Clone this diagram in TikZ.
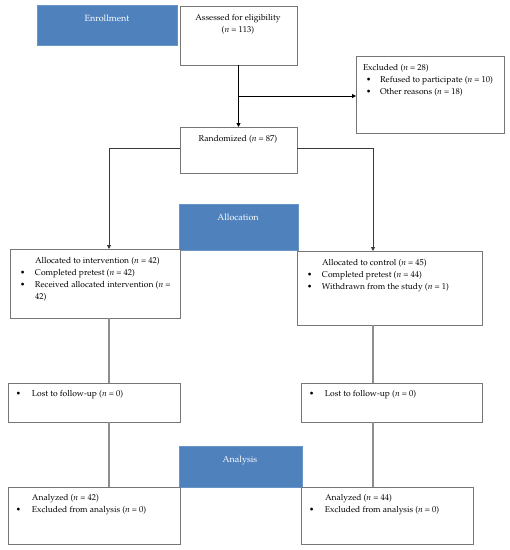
\documentclass[tikz,border=0pt]{standalone}
\usepackage[T1]{fontenc}
\usepackage{mathpazo}
\usetikzlibrary{arrows.meta}
\definecolor{blu}{HTML}{4F81BD}
\definecolor{bord}{HTML}{767676}
\definecolor{conn}{HTML}{8E8E8E}
\definecolor{dconn}{HTML}{3A3A3A}
\begin{document}
\begin{tikzpicture}[x=1pt,y=-1pt,
  box/.style={draw=bord,line width=0.9pt,fill=white,anchor=north west,inner sep=0pt,outer sep=0pt},
  bluebox/.style={fill=blu,draw=blu!85!white,line width=0.5pt,anchor=north west,inner sep=0pt,outer sep=0pt},
  txt/.style={inner sep=0pt,outer sep=0pt,align=left,anchor=north west,font=\fontsize{8.5}{12}\selectfont},
  ctxt/.style={inner sep=0pt,outer sep=0pt,align=center,anchor=north,font=\fontsize{8.5}{12}\selectfont},
  wtxt/.style={ctxt,text=white,font=\fontsize{9}{12}\selectfont},
  arr/.style={draw=black,line width=1pt,-{Triangle[length=4pt,width=4pt]}},
  darr/.style={draw=dconn,line width=0.9pt,-{Triangle[length=4pt,width=4pt]}},
  gline/.style={draw=conn,line width=1.1pt}]
\useasboundingbox (0,0) rectangle (510,550);
\newcommand{\bul}{\makebox[15pt][l]{\textbullet}}
\newcommand{\nn}{\textit{n}}
% blue phase boxes
\node[bluebox,minimum width=140pt,minimum height=40pt] (enr) at (37,5) {};
\node[wtxt] (tenr) at (107,15) {Enrollment};
\node[bluebox,minimum width=119pt,minimum height=46pt] (alo) at (179,204) {};
\node[wtxt] (talo) at (238,214) {Allocation};
\node[bluebox,minimum width=123pt,minimum height=41pt] (ana) at (179,446) {};
\node[wtxt] (tana) at (240,456) {Analysis};
% boxes
\node[box,minimum width=117pt,minimum height=59pt] (ass) at (180,6) {};
\node[ctxt] (tass) at (238,14.5) {Assessed for eligibility\\(\nn{} = 113)};
\node[box,minimum width=148pt,minimum height=77pt] (exc) at (356,56) {};
\node[txt] (texc) at (363,64.5) {Excluded (\nn{} = 28)\\
  \hspace*{3pt}\makebox[14pt][l]{\textbullet}Refused to participate (\nn{} = 10)\\
  \hspace*{3pt}\makebox[14pt][l]{\textbullet}Other reasons (\nn{} = 18)};
\node[box,minimum width=117pt,minimum height=46pt] (ran) at (180,127) {};
\node[ctxt] (tran) at (238,135.5) {Randomized (\nn{} = 87)};
\node[box,minimum width=170pt,minimum height=69pt] (ai) at (10,249) {};
\node[txt] (tai) at (20,257.5) {\hspace*{15pt}Allocated to intervention (\nn{} = 42)\\
  \bul Completed pretest (\nn{} = 42)\\
  \bul Received allocated intervention (\nn{} =\\
  \hspace*{15pt}42)};
\node[box,minimum width=185pt,minimum height=74pt] (ac) at (297,251) {};
\node[txt] (tac) at (307,259.5) {\hspace*{15pt}Allocated to control (\nn{} = 45)\\
  \bul Completed pretest (\nn{} = 44)\\
  \bul Withdrawn from the study (\nn{} = 1)};
\node[box,minimum width=172pt,minimum height=39pt] (ll) at (8,383) {};
\node[txt] (tll) at (16,390.5) {\makebox[16pt][l]{\textbullet}Lost to follow-up (\nn{} = 0)};
\node[box,minimum width=181pt,minimum height=39pt] (lr) at (301,383) {};
\node[txt] (tlr) at (309,390.5) {\makebox[16pt][l]{\textbullet}Lost to follow-up (\nn{} = 0)};
\node[box,minimum width=172pt,minimum height=57pt] (al) at (8,487) {};
\node[txt] (tal) at (16,494.5) {\hspace*{16pt}Analyzed (\nn{} = 42)\\
  \makebox[16pt][l]{\textbullet}Excluded from analysis (\nn{} = 0)};
\node[box,minimum width=172pt,minimum height=57pt] (ar) at (301,487) {};
\node[txt] (tar) at (309,494.5) {\hspace*{16pt}Analyzed (\nn{} = 44)\\
  \makebox[16pt][l]{\textbullet}Excluded from analysis (\nn{} = 0)};
% connectors
\coordinate (lx) at (109,0);
\coordinate (rx) at (373,0);
\draw[arr] (ass.south) -- (ran.north);
\coordinate (br) at (238,96);
\draw[arr] (br) -- (br -| exc.west);
\draw[darr] ([yshift=2pt]ran.west) -| (lx |- ai.north);
\draw[darr] ([yshift=2pt]ran.east) -| (rx |- ac.north);
\draw[gline] (lx |- ai.south) -- (lx |- ll.north);
\draw[gline] (lx |- ll.south) -- (lx |- al.north);
\draw[gline] (rx |- ac.south) -- (rx |- lr.north);
\draw[gline] (rx |- lr.south) -- (rx |- ar.north);
\end{tikzpicture}
\end{document}
